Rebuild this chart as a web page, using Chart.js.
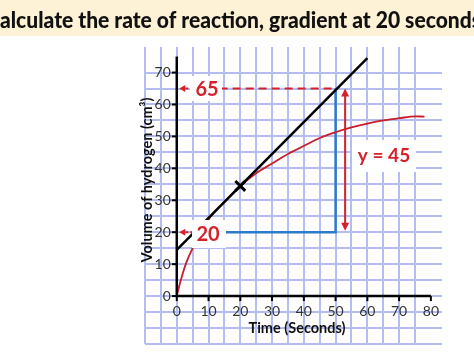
<!DOCTYPE html>
<html><head><meta charset="utf-8">
<script src="https://cdn.jsdelivr.net/npm/chart.js@4/dist/chart.umd.min.js"></script>
<style>html,body{margin:0;padding:0;background:#fff;}#wrap{width:474px;height:355px;}</style>
</head><body><div id="wrap"><canvas id="c" width="474" height="355"></canvas></div>
<script>
// ---- data ----
const titleText = "Calculate the rate of reaction, gradient at 20 seconds";
const xTitle = "Time (Seconds)";
const yTitle = "Volume of hydrogen (cm³)";
const xTickValues = [0, 10, 20, 30, 40, 50, 60, 70, 80];
const yTickValues = [0, 10, 20, 30, 40, 50, 60, 70];
const curveTime   = [0, 1, 2, 3, 5, 7.5, 10, 15, 20, 25, 30, 35, 40, 45, 50, 55, 60, 65, 70, 75, 78];
const curveVolume = [0, 4, 7.5, 10.5, 15, 20, 24, 29.5, 34.5, 38.5, 41.5, 44.5, 47, 49.5, 51.3, 52.8, 54, 55, 55.7, 56.3, 56.2];
const tangentTime   = [0, 60];
const tangentVolume = [14.5, 74.5];
const tangentPoint  = [20, 34.5];
const blueTime   = [14, 50, 50];
const blueVolume = [20, 20, 65];
const readValues = [65, 20];
const riseTime = 53;                   // position of the "y = 45" double arrow
const riseLabel = "y = 45";

const RED = '#d6202a', CURVE = '#c81e2a', BLUE = '#2a7bc8', GRID = '#b4bcf2';
const toPts = (xs, ys) => xs.map((x, i) => ({x, y: ys[i]}));

const deco = {
  id: 'deco',
  beforeDraw(chart) {
    const c = chart.ctx;
    c.save();
    c.fillStyle = '#fff'; c.fillRect(0, 0, chart.width, chart.height);
    c.fillStyle = '#fdf1d6'; c.fillRect(0, 0, chart.width, 36);
    c.fillStyle = '#111';
    const fs = 23;
    c.font = `900 ${fs}px Lato`;
    const wC = c.measureText('C').width;
    const wAll = c.measureText(titleText).width;
    const target = 481;
    const sx = target / (wAll - wC);
    c.translate(0, 28);
    c.scale(sx, 1);
    c.textBaseline = 'alphabetic';
    c.fillText(titleText, -wC, 0);
    c.restore();
  },
  afterDatasetsDraw(chart) {
    const c = chart.ctx, xs = chart.scales.x, ys = chart.scales.y;
    const X = v => xs.getPixelForValue(v), Y = v => ys.getPixelForValue(v);
    c.save();
    // tick marks
    c.strokeStyle = '#000'; c.lineWidth = 2;
    yTickValues.forEach(v => { c.beginPath(); c.moveTo(X(0) - 5, Y(v)); c.lineTo(X(0), Y(v)); c.stroke(); });
    xTickValues.forEach(v => { c.beginPath(); c.moveTo(X(v), Y(0)); c.lineTo(X(v), Y(0) + 5); c.stroke(); });
    // tick labels
    c.fillStyle = '#333'; c.font = '14px Lato';
    c.textAlign = 'right'; c.textBaseline = 'middle';
    yTickValues.forEach(v => c.fillText(String(v), X(0) - 6, Y(v)));
    c.textAlign = 'center'; c.textBaseline = 'middle';
    xTickValues.forEach(v => c.fillText(String(v), X(v), Y(0) + 15));
    // axis titles
    c.fillStyle = '#111'; c.font = 'bold 14.5px Lato';
    c.fillText(xTitle, 297, 328);
    c.save(); c.translate(147, 180); c.rotate(-Math.PI / 2); c.fillText(yTitle, 0, 0); c.restore();

    // red dashed read-off line at 65
    c.strokeStyle = RED; c.lineWidth = 2.2;
    c.setLineDash([8, 5]);
    c.beginPath(); c.moveTo(X(13.5), Y(readValues[0])); c.lineTo(X(50), Y(readValues[0])); c.stroke();
    c.setLineDash([]);
    // small left arrows to axis
    readValues.forEach(v => {
      const y = Y(v), tip = X(0.8);
      c.fillStyle = RED;
      c.beginPath(); c.moveTo(tip, y); c.lineTo(tip + 6, y - 3.5); c.lineTo(tip + 6, y + 3.5); c.closePath(); c.fill();
      c.lineWidth = 2; c.setLineDash([3, 2]);
      c.beginPath(); c.moveTo(tip + 6, y); c.lineTo(tip + 14, y); c.stroke();
      c.setLineDash([]);
    });
    // label boxes
    const box = (x0, y0, w, h) => { c.fillStyle = '#fff'; c.fillRect(x0, y0, w, h); };
    box(190, 76, 32, 25);
    box(192, 220, 34, 28);
    box(352, 140, 64, 32);
    c.fillStyle = RED; c.font = 'bold 20px Lato'; c.textAlign = 'center'; c.textBaseline = 'middle';
    c.fillText(String(readValues[0]), 207, Y(readValues[0]) + 1);
    c.fillText(String(readValues[1]), 208, Y(readValues[1]) + 2);
    c.font = 'bold 19px Lato';
    c.fillText(riseLabel, 384, 156);
    // vertical double arrow
    const ax = X(riseTime), yTop = Y(readValues[0]), yBot = Y(20.5);
    c.strokeStyle = RED; c.lineWidth = 2;
    c.beginPath(); c.moveTo(ax, yTop + 6); c.lineTo(ax, yBot - 6); c.stroke();
    c.fillStyle = RED;
    c.beginPath(); c.moveTo(ax, yTop); c.lineTo(ax - 4, yTop + 8); c.lineTo(ax + 4, yTop + 8); c.closePath(); c.fill();
    c.beginPath(); c.moveTo(ax, yBot); c.lineTo(ax - 4, yBot - 8); c.lineTo(ax + 4, yBot - 8); c.closePath(); c.fill();
    c.restore();
  }
};

new Chart(document.getElementById('c'), {
  type: 'scatter',
  data: {
    datasets: [
      { data: toPts(curveTime, curveVolume), showLine: true, borderColor: CURVE, borderWidth: 1.8, pointRadius: 0, cubicInterpolationMode: 'monotone', order: 3 },
      { data: toPts(blueTime, blueVolume), showLine: true, borderColor: BLUE, borderWidth: 2.5, pointRadius: 0, tension: 0, order: 4 },
      { data: toPts(tangentTime, tangentVolume), showLine: true, borderColor: '#000', borderWidth: 2.5, pointRadius: 0, order: 2 },
      { data: [{x: 0, y: 0}, {x: 0, y: 75}], showLine: true, borderColor: '#000', borderWidth: 2.5, pointRadius: 0, order: 1 },
      { data: [{x: 0, y: 0}, {x: 80, y: 0}], showLine: true, borderColor: '#000', borderWidth: 2.5, pointRadius: 0, order: 1 },
      { data: [{x: tangentPoint[0], y: tangentPoint[1]}], showLine: false, pointStyle: 'crossRot', pointRadius: 7, borderColor: '#000', borderWidth: 3, order: 0 }
    ]
  },
  options: {
    responsive: false, animation: false, devicePixelRatio: 1,
    layout: { padding: { left: 145, right: 32, top: 47, bottom: 11 } },
    plugins: { legend: { display: false }, tooltip: { enabled: false } },
    scales: {
      x: { type: 'linear', min: -10, max: 83.5,
           afterBuildTicks: s => { s.ticks = s.ticks.filter(t => Math.abs(t.value / 5 - Math.round(t.value / 5)) < 1e-6); },
           ticks: { display: false, stepSize: 5 }, border: { display: false },
           grid: { color: GRID, lineWidth: 2, drawTicks: false } },
      y: { type: 'linear', min: -15, max: 78,
           afterBuildTicks: s => { s.ticks = s.ticks.filter(t => Math.abs(t.value / 5 - Math.round(t.value / 5)) < 1e-6); },
           ticks: { display: false, stepSize: 5 }, border: { display: false },
           grid: { color: GRID, lineWidth: 2, drawTicks: false } }
    }
  },
  plugins: [deco]
});
</script></body></html>
